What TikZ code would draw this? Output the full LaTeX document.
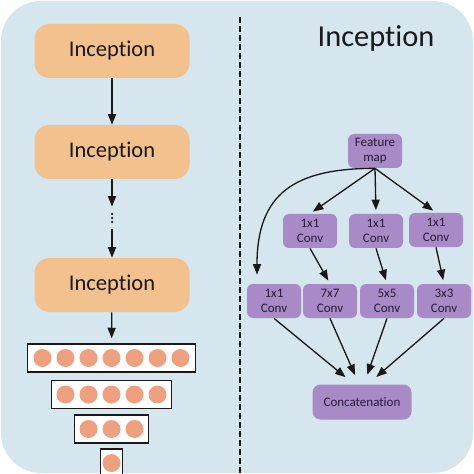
\documentclass[tikz,border=0pt]{standalone}
\usepackage{fontspec}
\setmainfont{Carlito}[Ligatures=NoCommon]
\usepackage{xcolor}
\definecolor{incbg}{RGB}{213,230,238}
\definecolor{incorange}{RGB}{242,193,141}
\definecolor{incpurple}{RGB}{168,139,198}
\definecolor{inctext}{RGB}{40,26,56}
\definecolor{incdot}{RGB}{239,160,127}
\definecolor{incline}{RGB}{25,25,25}
\usetikzlibrary{arrows.meta,positioning,calc}
\tikzset{
  incbox/.style={fill=incorange, rounded corners=0.3cm, font=\fontsize{12.8}{14}\selectfont,
                 minimum width=3.1cm, minimum height=1.08cm, inner sep=0pt, text=incline},
  convbox/.style={fill=incpurple, rounded corners=0.12cm, font=\fontsize{7.4}{8.5}\selectfont,
                  minimum width=1.08cm, minimum height=0.68cm, inner sep=0pt, align=center, text=inctext},
  layerrow/.style={draw=incline, line width=0.8pt, fill=white, minimum height=0.56cm, inner sep=0pt},
  flow/.style={-{Triangle[length=6pt, width=4.6pt]}, line width=0.75pt, incline},
}

\begin{document}
\begin{tikzpicture}
\useasboundingbox (0,0) rectangle (9.48,-9.48);

% Background panel
\fill[incbg, rounded corners=0.8cm] (0.02,-0.02) rectangle (9.46,-9.46);

% Left: stacked inception modules
\node[incbox] (inc1) at (2.24,-1.02) {Inception};
\node[incbox] (inc2) at (2.24,-3.04) {Inception};
\node[minimum height=0.44cm, minimum width=0.2cm, inner sep=0pt] (dots) at (2.24,-4.36) {};
\node[incbox] (inc3) at (2.24,-5.70) {Inception};

\foreach \d in {-0.08,0,0.08}
  \fill[incline] ([yshift=\d cm]dots.center) circle (0.025);

\draw[flow] (inc1) -- (inc2);
\draw[flow] (inc2) -- (dots.north);
\draw[flow] (dots.south) -- (inc3);

% Fully connected layers
\foreach \n/\y/\w [count=\i] in {7/-7.16/3.36, 5/-7.89/2.40, 3/-8.58/1.48, 1/-9.26/0.44}{
  \node[layerrow, minimum width=\w cm] (row\i) at (2.23,\y) {};
  \foreach \k in {1,...,\n}
    \fill[incdot] ($(row\i.center)+({(\k-(\n+1)/2)*0.46},0)$) circle (0.18);
}
\draw[flow, shorten >=0.1cm] (inc3) -- (row1);

% Separator
\draw[incline, line width=0.8pt, dash pattern=on 0.12cm off 0.06cm] (4.8,-0.34) -- (4.8,-9.48);

% Right: inside one module
\node[font=\fontsize{17.3}{20}\selectfont, text=incline, anchor=base] (title) at (7.52,-0.94) {Inception};

\node[convbox] (fmap) at (7.50,-3.02) {Feature\\map};
\node[convbox] (c1a) at (6.20,-4.62) {1x1\\Conv};
\node[convbox] (c1b) at (7.52,-4.62) {1x1\\Conv};
\node[convbox] (c1c) at (8.72,-4.60) {1x1\\Conv};
\node[convbox] (b1) at (5.48,-6.02) {1x1\\Conv};
\node[convbox] (b7) at (6.60,-6.02) {7x7\\Conv};
\node[convbox] (b5) at (7.74,-6.02) {5x5\\Conv};
\node[convbox] (b3) at (8.88,-6.02) {3x3\\Conv};
\node[convbox, minimum width=1.98cm, minimum height=0.7cm, rounded corners=0.16cm] (concat) at (7.24,-8.04) {Concatenation};

% Branches
\draw[flow] (fmap.south) to[out=180, in=90, looseness=1.3] ([xshift=-0.34cm, yshift=0.18cm]b1.north);
\draw[flow, shorten >=2pt] (fmap.south) -- (c1a.north);
\draw[flow, shorten >=2pt] (fmap.south) -- (c1b.north);
\draw[flow, shorten >=2pt] (fmap.south) -- (c1c.north);
\draw[flow, shorten >=2pt] (c1a.south) -- (b7.north);
\draw[flow, shorten >=2pt] (c1b.south) -- (b5.north);
\draw[flow, shorten >=2pt] (c1c.south) -- (b3.north);

% Merge
\draw[flow, shorten >=0.22cm] (b1.south) -- ([xshift=-0.16cm]concat.north);
\draw[flow, shorten >=0.2cm] (b7.south) -- ([xshift=-0.06cm]concat.north);
\draw[flow, shorten >=0.2cm] (b5.south) -- ([xshift=0.04cm]concat.north);
\draw[flow, shorten >=0.22cm] (b3.south) -- ([xshift=0.12cm]concat.north);

\end{tikzpicture}
\end{document}
